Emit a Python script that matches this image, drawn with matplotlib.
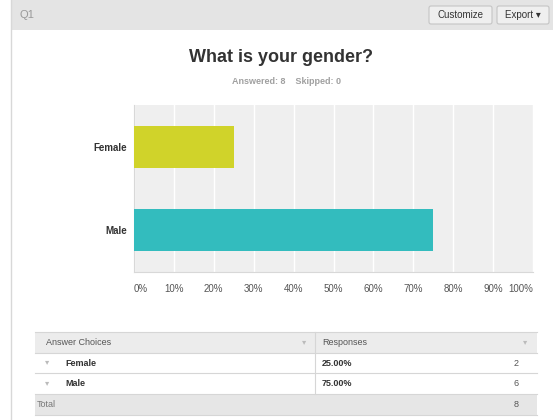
import matplotlib
matplotlib.use('Agg')
import matplotlib.pyplot as plt
from matplotlib.patches import Rectangle, FancyBboxPatch

plt.rcParams['font.family'] = ['Liberation Sans', 'DejaVu Sans']

# survey data
question = 'What is your gender?'
categories = ['Female', 'Male']
percents = [25.0, 75.0]
counts = [2, 6]
answered = 8
skipped = 0
bar_colors = ['#d0d32a', '#33bcbe']
ticks = list(range(0, 101, 10))

W, H = 560, 420
fig = plt.figure(figsize=(W / 100, H / 100), dpi=100)
fig.patch.set_facecolor('white')

# page background drawn in pixel coordinates
bg = fig.add_axes([0, 0, 1, 1])
bg.set_xlim(0, W)
bg.set_ylim(H, 0)
bg.axis('off')

bg.add_patch(Rectangle((11, 0), 542, 30, facecolor='#e4e4e4', edgecolor='none'))
bg.plot([11, 11], [0, H], color='#d8d8d8', lw=1)
bg.text(20, 15, 'Q1', fontsize=8, color='#999999', va='center', ha='left')
for x0, x1, label in [(429, 492, 'Customize'), (497, 549, 'Export \u25be')]:
    bg.add_patch(FancyBboxPatch((x0, 6), x1 - x0, 18, boxstyle='round,pad=0,rounding_size=2',
                                facecolor='#efefef', edgecolor='#c4c4c4', lw=0.8))
    bg.text((x0 + x1) / 2, 15.5, label, fontsize=7, color='#333333', ha='center', va='center')

bg.text(281, 57, question, fontsize=13, fontweight='bold', color='#333333',
        ha='center', va='center')
bg.text(286, 82, 'Answered: %d    Skipped: %d' % (answered, skipped), fontsize=6.5,
        fontweight='bold', color='#a0a0a0', ha='center', va='center')

# response table
tl, tr, tdiv = 35, 537, 315
row_y = [332, 353, 373, 394, 415]
bg.add_patch(Rectangle((tl, row_y[0]), tr - tl, row_y[1] - row_y[0], facecolor='#ececec', edgecolor='none'))
bg.add_patch(Rectangle((tl, row_y[3]), tr - tl, row_y[4] - row_y[3], facecolor='#e6e6e6', edgecolor='none'))
for y in row_y:
    bg.plot([tl, tr], [y, y], color='#d6d6d6', lw=0.8)
bg.plot([tdiv, tdiv], [row_y[0], row_y[3]], color='#d6d6d6', lw=0.8)

ty = (row_y[0] + row_y[1]) / 2
bg.text(46, ty, 'Answer Choices', fontsize=6.5, color='#555555', va='center')
bg.text(322, ty, 'Responses', fontsize=6.5, color='#555555', va='center')
bg.text(304, ty, '\u25be', fontsize=6, color='#bbbbbb', va='center', ha='center')
bg.text(525, ty, '\u25be', fontsize=6, color='#bbbbbb', va='center', ha='center')
for i, (cat, pct, n) in enumerate(zip(categories, percents, counts)):
    ty = (row_y[i + 1] + row_y[i + 2]) / 2
    bg.text(47, ty, '\u25be', fontsize=6, color='#bbbbbb', va='center', ha='center')
    bg.text(65, ty, cat, fontsize=6.5, fontweight='bold', color='#333333', va='center')
    bg.text(322, ty, '%.2f%%' % pct, fontsize=6.5, fontweight='bold', color='#333333', va='center')
    bg.text(519, ty, str(n), fontsize=6.5, color='#555555', va='center', ha='right')
ty = (row_y[3] + row_y[4]) / 2
bg.text(37, ty, 'Total', fontsize=6.5, color='#777777', va='center')
bg.text(519, ty, str(sum(counts)), fontsize=6.5, color='#555555', va='center', ha='right')

# bar chart
ax = fig.add_axes([134 / W, (H - 272) / H, (533 - 134) / W, (272 - 105) / H])
ax.set_facecolor('#efefef')
ax.barh(range(len(categories)), percents, height=0.5, color=bar_colors, zorder=3)
ax.set_xlim(0, 100)
ax.set_ylim(1.5, -0.5)
ax.set_xticks(ticks)
ax.set_xticklabels(['%d%%' % t for t in ticks], fontsize=7, color='#555555')
xt = ax.get_xticklabels()
xt[0].set_ha('left')
xt[-1].set_ha('right')
ax.set_yticks(range(len(categories)))
ax.set_yticklabels(categories, fontsize=7, fontweight='bold', color='#333333')
ax.tick_params(length=0)
ax.tick_params(axis='x', pad=9)
ax.tick_params(axis='y', pad=5)
ax.grid(axis='x', color='white', lw=1.0, zorder=1)
for s in ['top', 'right']:
    ax.spines[s].set_visible(False)
for s in ['left', 'bottom']:
    ax.spines[s].set_color('#d8d8d8')
    ax.spines[s].set_linewidth(0.8)

fig.savefig('out.png', dpi=100)
